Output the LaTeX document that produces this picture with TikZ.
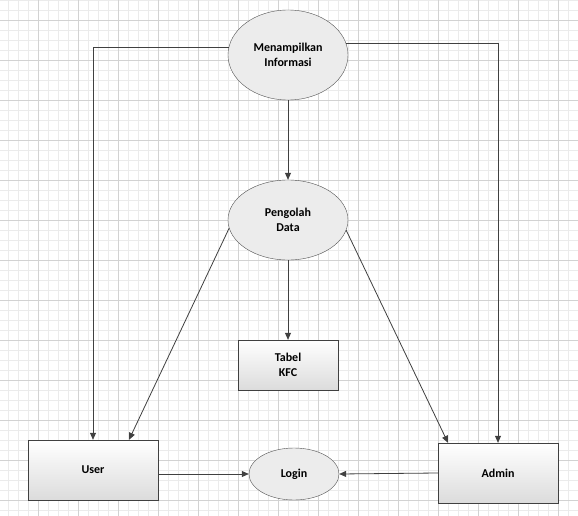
\documentclass[tikz,border=0pt]{standalone}
\usepackage{fontspec}
\setmainfont{Carlito}
\usepackage{tikz}
\usetikzlibrary{shapes.geometric,arrows.meta}

\definecolor{garis}{HTML}{404040}
\definecolor{gridkecil}{HTML}{EBEBEB}
\definecolor{gridbesar}{HTML}{D2D2D2}
\definecolor{isi}{HTML}{ECECEC}

\begin{document}
\begin{tikzpicture}[x=1pt,y=-1pt,
	proses/.style={shape=ellipse,draw=garis!90,fill=isi,inner sep=0pt,align=center,
		font=\fontsize{12}{15}\selectfont\bfseries},
	entitas/.style={shape=rectangle,draw=garis,top color=white,bottom color=isi!85!gray,
		inner sep=0pt,align=center,font=\fontsize{12}{15}\selectfont\bfseries},
	panah/.style={draw=garis,line width=0.8pt,-{Triangle[length=7pt,width=6pt]}}]
	
	\useasboundingbox (0,0) rectangle (578,516);
	\fill[white] (0,0) rectangle (578,516);
	\foreach \x in {8,18,...,578} \draw[gridkecil,line width=0.5pt] (\x,0) -- (\x,516);
	\foreach \y in {0,10,...,516} \draw[gridkecil,line width=0.5pt] (0,\y) -- (578,\y);
	\foreach \x in {38,78,...,578} \draw[gridbesar,line width=0.5pt] (\x,0) -- (\x,516);
	\foreach \y in {20,60,...,516} \draw[gridbesar,line width=0.5pt] (0,\y) -- (578,\y);
	
	\node[proses,minimum width=120pt,minimum height=90pt] (info) at (288, 55)   {Menampilkan\\Informasi};
	\node[proses,minimum width=120pt,minimum height=80pt] (olah) at (288, 220)  {Pengolah\\Data};
	\node[entitas,minimum width=100pt,minimum height=50pt] (tabel) at (288, 365) {Tabel\\KFC};
	\node[entitas,minimum width=130pt,minimum height=60pt] (user) at (93, 470)   {User};
	\node[proses,minimum width=90pt,minimum height=52pt] (login) at (294, 474)  {Login};
	\node[entitas,minimum width=120pt,minimum height=60pt] (admin) at (498, 473) {Admin};
	
	\path[panah] (info.173) -| (user.north);
	\path[panah] (info.11) -| (admin.north);
	\path[panah] (info.south) -- (olah.north);
	\path[panah] (olah.south) -- (tabel.north);
	\path[panah] (olah.188) -- ([xshift=36pt]user.north);
	\path[panah] (olah.350) -- ([xshift=-50pt]admin.north);
	\path[panah] (login.west -| user.east) -- (login.west);
	\path[panah] (admin.west) -- (login.east);
\end{tikzpicture}
\end{document}
